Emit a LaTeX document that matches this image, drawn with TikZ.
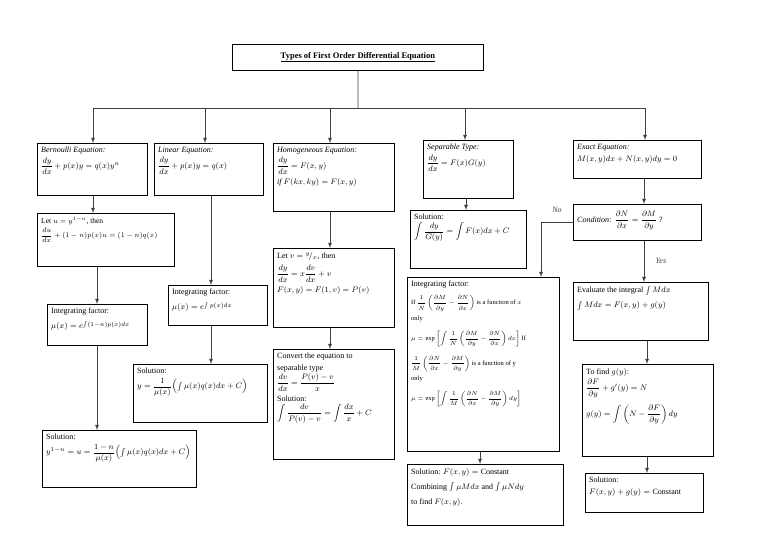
\documentclass[tikz,border=0pt]{standalone}
\usepackage{amsmath}
\usepackage{fontspec}
\setmainfont{Liberation Serif}
\usetikzlibrary{arrows,positioning}

\begin{document}
\begin{tikzpicture}[x=1pt,y=-1pt,
  box/.style 2 args={draw, thick, anchor=north west, inner sep=0pt,
    minimum width=#1, minimum height=#2},
  txt/.style={anchor=north west, align=left, inner sep=4pt,
    font=\fontsize{8}{12}\selectfont},
  lbl/.style={font=\fontsize{8}{9}\selectfont\itshape},
  link/.style={thick, -latex, black!75}]

\useasboundingbox (0,0) rectangle (768,543);

\node (title) [box={251pt}{26pt}, font=\fontsize{8.5}{9}\selectfont] at (232,44)
  {\underline{\textbf{Types of First Order Differential Equation}}};

% first row
\node (bern) [box={110pt}{52pt}, label={[txt]north west:{\textit{Bernoulli Equation:}\\[2pt]
  $\dfrac{dy}{dx}+p(x)y=q(x)y^n$}}] at (37,143) {};
\node (lin) [box={109pt}{52pt}, label={[txt]north west:{\textit{Linear Equation:}\\[2pt]
  $\dfrac{dy}{dx}+p(x)y=q(x)$}}] at (154,143) {};
\node (homo) [box={121pt}{68pt}, label={[txt]north west:{\textit{Homogeneous Equation:}\\[2pt]
  $\dfrac{dy}{dx}=F(x,y)$\\[4pt] $\textit{if}\ F(kx,ky)=F(x,y)$}}] at (273,143) {};
\node (sep) [box={90pt}{58pt}, label={[txt]north west:{\textit{Separable Type:}\\[2pt]
  $\dfrac{dy}{dx}=F(x)G(y)$}}] at (423,140) {};
\node (exact) [box={128pt}{38pt}, label={[txt]north west:{\textit{Exact Equation:}\\
  $M(x,y)dx+N(x,y)dy=0$}}] at (573,140) {};

% bernoulli column
\node (letu) [box={137pt}{53pt}, label={[txt, font=\fontsize{7.5}{12}\selectfont]north west:{%
  Let $u=y^{1-n}$, then\\[2pt]
  $\dfrac{du}{dx}+(1-n)p(x)u=(1-n)q(x)$}}] at (37,213) {};
\node (ifb) [box={100pt}{41pt}, label={[txt]north west:{Integrating factor:\\[3pt]
  $\mu(x)=e^{\int(1-n)p(x)dx}$}}] at (47,304) {};
\node (solb) [box={154pt}{57pt}, label={[txt]north west:{Solution:\\[3pt]
  $y^{1-n}=u=\dfrac{1-n}{\mu(x)}\Bigl(\int\mu(x)q(x)dx+C\Bigr)$}}] at (42,430) {};

% linear column
\node (ifl) [box={99pt}{40pt}, label={[txt]north west:{Integrating factor:\\[3pt]
  $\mu(x)=e^{\int p(x)dx}$}}] at (168,285) {};
\node (soll) [box={134pt}{58pt}, label={[txt]north west:{Solution:\\[3pt]
  $y=\dfrac{1}{\mu(x)}\Bigl(\int\mu(x)q(x)dx+C\Bigr)$}}] at (133,364) {};

% homogeneous column
\node (letv) [box={121pt}{79pt}, label={[txt]north west:{Let $v={}^{y}\!/_{x}$, then\\[4pt]
  $\dfrac{dy}{dx}=x\dfrac{dv}{dx}+v$\\[4pt] $F(x,y)=F(1,v)=P(v)$}}] at (273,248) {};
\node (conv) [box={121pt}{110pt}, label={[txt]north west:{Convert the equation to\\ separable type\\
  $\dfrac{dv}{dx}=\dfrac{P(v)-v}{x}$\\[4pt] Solution:\\[2pt]
  $\displaystyle\int\frac{dv}{P(v)-v}=\int\frac{dx}{x}+C$}}] at (273,349) {};

% separable column
\node (sols) [box={116pt}{58pt}, label={[txt]north west:{Solution:\\[2pt]
  $\displaystyle\int\frac{dy}{G(y)}=\int F(x)dx+C$}}] at (410,210) {};

% exact column
\node (cond) [box={128pt}{36pt}, label={[txt, yshift=-3pt]north west:{\textit{Condition:}
  $\dfrac{\partial N}{\partial x}=\dfrac{\partial M}{\partial y}$ ?}}] at (573,204) {};
\node (ife) [box={152pt}{174pt}, label={[txt, font=\fontsize{6.5}{10}\selectfont]north west:{%
  {\fontsize{8}{9}\selectfont Integrating factor:}\\[6pt]
  If $\dfrac{1}{N}\left(\dfrac{\partial M}{\partial y}-\dfrac{\partial N}{\partial x}\right)$ is a function of $x$\\[4pt] only\\[8pt]
  $\mu=\exp\left[\displaystyle\int\frac{1}{N}\left(\frac{\partial M}{\partial y}-\frac{\partial N}{\partial x}\right)dx\right]$ If\\[8pt]
  $\dfrac{1}{M}\left(\dfrac{\partial N}{\partial x}-\dfrac{\partial M}{\partial y}\right)$ is a function of y\\[4pt] only\\[8pt]
  $\mu=\exp\left[\displaystyle\int\frac{1}{M}\left(\frac{\partial N}{\partial x}-\frac{\partial M}{\partial y}\right)dy\right]$}}]
  at (407,277) {};
\node (sole) [box={156pt}{61pt}, label={[txt, font=\fontsize{8}{15}\selectfont]north west:{%
  Solution: $F(x,y)=\text{Constant}$\\ Combining $\int\mu Mdx$ and $\int\mu Ndy$\\
  to find $F(x,y)$.}}] at (407,464) {};
\node (eval) [box={135pt}{58pt}, label={[txt, font=\fontsize{8}{15}\selectfont]north west:{%
  Evaluate the integral $\int Mdx$\\ $\int Mdx=F(x,y)+g(y)$}}] at (573,282) {};
\node (gfind) [box={131pt}{92pt}, label={[txt]north west:{To find $g(y)$:\\[2pt]
  $\dfrac{\partial F}{\partial y}+g'(y)=N$\\[6pt]
  $g(y)=\displaystyle\int\left(N-\frac{\partial F}{\partial y}\right)dy$}}] at (582,364) {};
\node (solx) [box={118pt}{39pt}, label={[txt]north west:{Solution:\\
  $F(x,y)+g(y)=\text{Constant}$}}] at (585,473) {};

% bus from the title
\coordinate (bus) at (358,108);
\draw [thick, black!75] (title.south) -- (bus);
\draw [thick, black!75] (93,108) -- (645,108);
\draw [link] (93,108) -- (bern.north -| 93,0);
\draw [link] (205,108) -- (lin.north -| 205,0);
\draw [link] (330,108) -- (homo.north -| 330,0);
\draw [link] (465,108) -- (sep.north -| 465,0);
\draw [link] (645,108) -- (exact.north -| 645,0);

% columns
\draw [link] (bern.south -| 93,0) -- (letu.north -| 93,0);
\draw [link] (letu.south -| 97,0) -- (ifb.north -| 97,0);
\draw [link] (ifb.south -| 97,0) -- (solb.north -| 97,0);
\draw [link] (lin.south -| 211,0) -- (ifl.north -| 211,0);
\draw [link] (ifl.south -| 211,0) -- (soll.north -| 211,0);
\draw [link] (homo.south -| 330,0) -- (letv.north -| 330,0);
\draw [link] (letv.south -| 330,0) -- (conv.north -| 330,0);
\draw [link] (sep.south -| 466,0) -- (sols.north -| 466,0);
\draw [link] (exact.south -| 644,0) -- (cond.north -| 644,0);
\draw [link] (cond.west) -| (ife.north -| 541,0)
  node [lbl, pos=0.25, above=6pt] {No};
\draw [link] (cond.south -| 644,0) -- (eval.north -| 644,0)
  node [lbl, midway, right=8pt] {Yes};
\draw [link] (eval.south -| 647,0) -- (gfind.north -| 647,0);
\draw [link] (ife.south -| 480,0) -- (sole.north -| 480,0);
\draw [link] (gfind.south -| 647,0) -- (solx.north -| 647,0);

\end{tikzpicture}
\end{document}
